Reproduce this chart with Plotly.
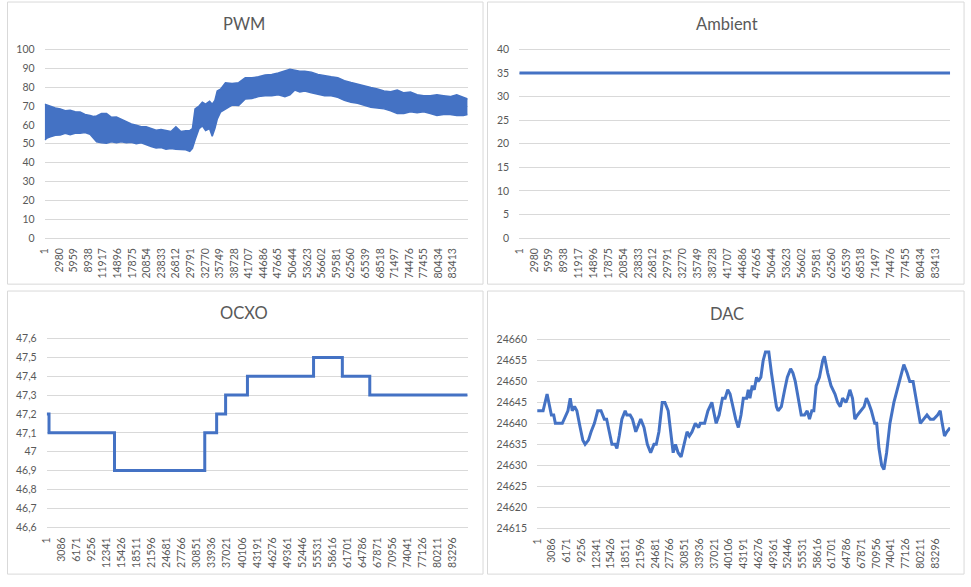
import plotly.graph_objects as go

W, H = 971, 587
BLUE = "#4472C4"
GRID = "#D9D9D9"
TXT = "#595959"
FONT = "Lato"

# ---------------- data ----------------
TITLES = ["PWM", "Ambient", "OCXO", "DAC"]

# PWM: noisy signal, drawn as band between read lower / upper envelopes
PWM_INDEX = [1, 470, 1150, 2160, 3170, 4190, 5200, 6210, 7220, 8240, 9250, 9920, 10600,
             11610, 12620, 13640, 14650, 15660, 16670, 17690, 18700, 19710, 20720, 21740,
             22750, 23760, 24770, 25790, 26800, 27810, 28820, 29630, 30170, 30710, 31520,
             32200, 32870, 33680, 34220, 34760, 35240, 35910, 36920, 38270, 39620, 40970,
             42320, 43670, 45020, 46370, 47720, 49070, 50090, 51100, 52110, 53120, 54470,
             55820, 57170, 58520, 59870, 61220, 62570, 63920, 65270, 66620, 67970, 69320,
             70670, 72020, 73370, 74720, 76070, 77420, 78770, 80120, 81470, 82820, 84170,
             85520, 86400]
PWM_UPPER = [71, 70.5, 70, 69, 68.5, 67.5, 67.7, 67, 66.8, 65.5, 65, 64.5, 64.7,
             66, 66, 64, 64.2, 63, 61.6, 60.5, 59.8, 59, 59, 58,
             57.2, 57.5, 57.2, 56.5, 59, 56.5, 56.9, 57, 58, 68.5, 70,
             72, 71, 72.5, 71, 73, 78, 79, 82.4, 82, 82.4, 85,
             85, 85.5, 86.5, 86.8, 87.5, 88.5, 89.5, 89, 88.5, 88.5, 88,
             86.8, 86, 85.5, 85, 83.5, 82.5, 81.5, 80.5, 79.8, 79, 78,
             77.6, 78.5, 77, 77.5, 76, 75.5, 75.5, 76, 75.5, 75, 76,
             74.5, 73.7]
PWM_LOWER = [52, 53, 53.7, 54.5, 54.6, 55.5, 54.8, 55.5, 55.5, 56, 55, 53, 51,
             50.5, 50.3, 51, 50.5, 51, 50.5, 50.8, 50, 50.5, 49.4, 48.5,
             47.7, 48, 47.1, 47.5, 47.1, 47, 46.8, 45.9, 47.5, 52, 58,
             59.5, 57, 58, 54, 58, 63, 66.8, 68.5, 70.5, 70.3, 73.7,
             74, 75, 75.5, 75.5, 76, 75, 76, 78.5, 77.5, 78, 77,
             76.3, 75.5, 75.5, 74.6, 73, 72, 71.5, 70.5, 69.4, 69, 68.5,
             67.5, 66, 66, 67, 66.5, 67, 66, 65, 65.5, 65.5, 65,
             65, 65.5]

AMBIENT_INDEX = [1, 86400]
AMBIENT = [35, 35]

OCXO_INDEX = [1, 475, 13910, 32440, 34880, 36720, 41200, 54770, 60680, 66310, 86400]
OCXO = [47.2, 47.1, 46.9, 47.1, 47.2, 47.3, 47.4, 47.5, 47.4, 47.3, 47.3]

DAC_INDEX = [1, 1246, 2077, 2977, 3462, 3808, 5261, 5954, 6438, 6923, 7338, 7823, 8308,
             9000, 9554, 10038, 10731, 11285, 11977, 12669, 13361, 14054, 14538, 15092,
             15646, 16338, 16684, 17169, 17723, 18415, 18761, 19454, 19938, 20631, 21669,
             22361, 23054, 23746, 24438, 24923, 25477, 26169, 26723, 27415, 27900, 28454,
             28938, 29492, 30115, 30669, 31361, 31846, 32400, 33092, 33784, 34131, 35031,
             35723, 36554, 36900, 37454, 38077, 38769, 39323, 39877, 40361, 41054, 41538,
             42092, 42646, 43131, 43823, 44169, 44515, 45000, 45415, 45900, 46246, 46800,
             47284, 47769, 48461, 49015, 49569, 50054, 50400, 51092, 51784, 52338, 53031,
             53515, 54000, 54554, 55246, 55938, 56492, 56977, 57461, 57877, 58361, 59054,
             59746, 60092, 60785, 61477, 61962, 62308, 62862, 63415, 63900, 64592, 64938,
             65423, 65977, 66462, 67015, 67708, 68400, 68885, 69300, 69923, 70615, 71031,
             71515, 72069, 72554, 73108, 73800, 74631, 75323, 76154, 76708, 77400, 77954,
             78646, 79131, 79685, 80169, 80862, 81554, 82246, 82938, 83769, 84323, 84738,
             85223, 85708, 86400]
DAC = [24643, 24643, 24647, 24642, 24642, 24640, 24640, 24642, 24643, 24646, 24643, 24644, 24643,
       24639, 24636, 24635, 24636, 24638, 24640, 24643, 24643, 24641, 24641, 24638,
       24635, 24635, 24634, 24637, 24641, 24643, 24642, 24642, 24641, 24638, 24641,
       24639, 24635, 24633, 24635, 24635, 24638, 24645, 24645, 24643, 24638, 24633,
       24635, 24633, 24632, 24635, 24638, 24637, 24638, 24640, 24639, 24640, 24640,
       24643, 24645, 24643, 24640, 24642, 24646, 24646, 24648, 24647, 24643, 24641,
       24639, 24642, 24646, 24646, 24648, 24646, 24649, 24648, 24651, 24650, 24651,
       24655, 24657, 24657, 24652, 24647, 24644, 24643, 24644, 24648, 24651, 24653,
       24652, 24650, 24646, 24642, 24642, 24643, 24641, 24643, 24643, 24649, 24651,
       24655, 24656, 24652, 24649, 24648, 24647, 24645, 24644, 24646, 24645, 24646,
       24648, 24646, 24641, 24642, 24643, 24644, 24646, 24645, 24643, 24640, 24640,
       24634, 24630, 24629, 24633, 24640, 24645, 24648, 24652, 24654, 24652, 24650,
       24650, 24647, 24643, 24640, 24641, 24642, 24641, 24641, 24642, 24643, 24640,
       24637, 24638, 24639]

# category tick labels
TOP_XTICKS = [1, 2980, 5959, 8938, 11917, 14896, 17875, 20854, 23833, 26812, 29791, 32770,
              35749, 38728, 41707, 44686, 47665, 50644, 53623, 56602, 59581, 62560, 65539,
              68518, 71497, 74476, 77455, 80434, 83413]
BOTTOM_XTICKS = [1, 3086, 6171, 9256, 12341, 15426, 18511, 21596, 24681, 27766, 30851, 33936,
                 37021, 40106, 43191, 46276, 49361, 52446, 55531, 58616, 61701, 64786, 67871,
                 70956, 74041, 77126, 80211, 83296]

PWM_YTICKS = [0, 10, 20, 30, 40, 50, 60, 70, 80, 90, 100]
AMB_YTICKS = [0, 5, 10, 15, 20, 25, 30, 35, 40]
OCXO_YTICKS = [46.6, 46.7, 46.8, 46.9, 47.0, 47.1, 47.2, 47.3, 47.4, 47.5, 47.6]
OCXO_YTEXT = ["46,6", "46,7", "46,8", "46,9", "47", "47,1", "47,2", "47,3", "47,4", "47,5", "47,6"]
DAC_YTICKS = [24615, 24620, 24625, 24630, 24635, 24640, 24645, 24650, 24655, 24660]

# ---------------- figure ----------------
def px(x):
    return x / W

def py(y):
    return 1 - y / H

fig = go.Figure()

fig.add_trace(go.Scatter(x=PWM_INDEX, y=PWM_LOWER, mode="lines",
                         line=dict(color=BLUE, width=1.5), xaxis="x", yaxis="y",
                         showlegend=False, hoverinfo="skip"))
fig.add_trace(go.Scatter(x=PWM_INDEX, y=PWM_UPPER, mode="lines", fill="tonexty",
                         fillcolor=BLUE, line=dict(color=BLUE, width=1.5),
                         xaxis="x", yaxis="y", showlegend=False))
fig.add_trace(go.Scatter(x=AMBIENT_INDEX, y=AMBIENT, mode="lines",
                         line=dict(color=BLUE, width=3), xaxis="x2", yaxis="y2",
                         showlegend=False))
fig.add_trace(go.Scatter(x=OCXO_INDEX, y=OCXO, mode="lines", line_shape="hv",
                         line=dict(color=BLUE, width=3), xaxis="x3", yaxis="y3",
                         showlegend=False))
fig.add_trace(go.Scatter(x=DAC_INDEX, y=DAC, mode="lines",
                         line=dict(color=BLUE, width=3), xaxis="x4", yaxis="y4",
                         showlegend=False))

tickfont_y = dict(family=FONT, size=10.5, color=TXT)
tickfont_x = dict(family=FONT, size=10.5, color=TXT)

def xaxis(dom, anchor, ticks):
    return dict(domain=dom, anchor=anchor, range=[0.5, 86400.5],
                tickmode="array", tickvals=ticks, ticktext=[str(t) for t in ticks],
                tickangle=-90, tickfont=tickfont_x, showgrid=False, zeroline=False,
                showline=True, linecolor=GRID, linewidth=1,
                ticks="outside", ticklen=5, tickcolor="rgba(0,0,0,0)", fixedrange=True)

def yaxis(anchor, lo, hi, ytop, ybot, ticks, text=None):
    # pad the top by 2px so the top gridline is drawn
    per_px = (hi - lo) / (ybot - ytop)
    return dict(domain=[py(ybot), py(ytop - 2)], anchor=anchor,
                range=[lo, hi + 2 * per_px], tickmode="array", tickvals=ticks,
                ticktext=text if text else [str(t) for t in ticks],
                tickfont=tickfont_y, showgrid=True, gridcolor=GRID, gridwidth=1,
                zeroline=False, showline=False,
                ticks="outside", ticklen=7, tickcolor="rgba(0,0,0,0)", fixedrange=True)

fig.update_layout(
    width=W, height=H, margin=dict(l=0, r=0, t=0, b=0),
    paper_bgcolor="white", plot_bgcolor="white", showlegend=False,
    xaxis=xaxis([px(38), px(464)], "y", TOP_XTICKS),
    yaxis=yaxis("x", 0, 100, 46.3, 238, PWM_YTICKS),
    xaxis2=xaxis([px(516), px(950)], "y2", TOP_XTICKS),
    yaxis2=yaxis("x2", 0, 40, 46.3, 238, AMB_YTICKS),
    xaxis3=xaxis([px(40), px(464)], "y3", BOTTOM_XTICKS),
    yaxis3=yaxis("x3", 46.6, 47.6, 340.3, 532.3, OCXO_YTICKS, OCXO_YTEXT),
    xaxis4=xaxis([px(534), px(950)], "y4", BOTTOM_XTICKS),
    yaxis4=yaxis("x4", 24615, 24660, 341.3, 533.3, DAC_YTICKS),
)

# panel frames
frames = [(0.5, -2, 479.5, 285), (484, -2, 964, 285),
          (0.5, 292, 479.5, 580), (484, 292, 964, 580)]
for x0, y0, x1, y1 in frames:
    fig.add_shape(type="rect", xref="paper", yref="paper",
                  x0=px(x0), x1=px(x1), y0=py(y1), y1=py(y0),
                  line=dict(color=GRID, width=1), fillcolor="rgba(0,0,0,0)", layer="below")

# titles
title_pos = [(239, 20), (725, 20), (239, 314), (725, 315)]
for t, (x, y) in zip(TITLES, title_pos):
    fig.add_annotation(text=t, xref="paper", yref="paper", x=px(x), y=py(y),
                       xanchor="center", yanchor="middle", showarrow=False,
                       font=dict(family=FONT, size=16.5, color=TXT))

fig.write_html("out.html", config={"displayModeBar": False},
               post_script="document.body.style.margin='0';")
